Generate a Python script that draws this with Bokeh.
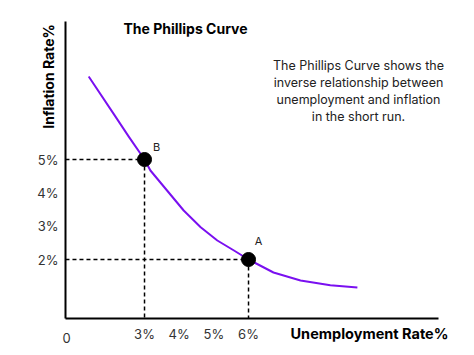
from bokeh.plotting import figure
from bokeh.models import Range1d, Label, FixedTicker
from bokeh.embed import file_html
from bokeh.resources import INLINE
import math

# ---- data ----
curve_x = [1.39, 2.11, 2.55, 3.00, 3.17, 3.65, 4.13, 4.62, 5.10, 5.58, 6.00, 6.72, 7.50, 8.36, 9.14]
curve_y = [7.49, 6.37, 5.68, 5.00, 4.67, 4.07, 3.47, 2.97, 2.57, 2.27, 2.00, 1.61, 1.37, 1.23, 1.16]
point_names = ["B", "A"]
point_x = [3, 6]
point_y = [5, 2]
x_ticks = [3, 4, 5, 6]
x_tick_labels = ["3%", "4%", "5%", "6%"]
y_ticks = [2, 3, 4, 5]
y_tick_labels = ["2%", "3%", "4%", "5%"]
title_text = "The Phillips Curve"
note_lines = ["The Phillips Curve shows the",
              "inverse relationship between",
              "unemployment and inflation",
              "in the short run."]
x_label = "Unemployment Rate%"
y_label = "Inflation Rate%"
origin_label = "0"

# axis extents (data units) and full view range
X0, X1 = 0.72, 11.48
Y0, Y1 = 0.23, 9.14
VIEW_X = (-1.154, 12.518)
VIEW_Y = (-0.88, 9.77)
W, H = 474, 355
FONT = "Inter"

p = figure(width=W, height=H, output_backend="svg", toolbar_location=None,
           x_range=Range1d(*VIEW_X), y_range=Range1d(*VIEW_Y),
           min_border=0)
p.outline_line_color = None
p.grid.visible = False
p.background_fill_color = "white"
p.border_fill_color = "white"

p.xaxis.fixed_location = Y0
p.xaxis.bounds = (X0, X1)
p.yaxis.fixed_location = X0
p.yaxis.bounds = (Y0, Y1)

for ax, ticks, labels in ((p.xaxis[0], x_ticks, x_tick_labels), (p.yaxis[0], y_ticks, y_tick_labels)):
    ax.ticker = FixedTicker(ticks=ticks)
    ax.major_label_overrides = {t: l for t, l in zip(ticks, labels)}
    ax.major_tick_in = 0
    ax.major_tick_out = 0
    ax.minor_tick_in = 0
    ax.minor_tick_out = 0
    ax.axis_line_color = "black"
    ax.axis_line_width = 2
    ax.major_label_text_font = FONT
    ax.major_label_text_font_size = "13px"
    ax.major_label_text_color = "#333333"
    ax.major_label_standoff = 7

# dashed guide lines
p.segment(x0=[X0] * len(point_x), y0=point_y, x1=point_x, y1=point_y,
          line_color="black", line_width=1.5, line_dash="4 3")
p.segment(x0=point_x, y0=point_y, x1=point_x, y1=[Y0] * len(point_x),
          line_color="black", line_width=1.5, line_dash="4 3")

# curve
p.line(curve_x, curve_y, line_color="#7a10f0", line_width=2, line_join="round")

# points
p.scatter(point_x, point_y, size=14, fill_color="black", line_color="black")
label_offsets = {"B": (12, 13), "A": (10, 19)}
for name, px, py in zip(point_names, point_x, point_y):
    dx, dy = label_offsets[name]
    p.add_layout(Label(x=px, y=py, text=name, x_offset=dx, y_offset=dy,
                       text_font=FONT, text_font_size="11px", text_color="#222222",
                       text_align="center", text_baseline="middle"))

def screen_label(sx, sy, text, **kw):
    # sx, sy measured from the top-left corner of the picture
    style = dict(text_font=FONT, text_align="center", text_baseline="middle",
                 text_color="black")
    style.update(kw)
    p.add_layout(Label(x=sx, y=H - sy, x_units="screen", y_units="screen", text=text, **style))

screen_label(185, 28, title_text, text_font_style="bold", text_font_size="14px")
for i, line in enumerate(note_lines):
    screen_label(358, 65 + 17 * i, line, text_font_size="12.5px", text_color="#222222")
screen_label(48, 76, y_label, angle=math.pi / 2, text_font_style="bold", text_font_size="14px")
screen_label(290, 333, x_label, text_align="left", text_font_style="bold", text_font_size="14.5px")
screen_label(66, 337, origin_label, text_font_size="13px", text_color="#333333")

open("out.html", "w").write(file_html(p, INLINE))
